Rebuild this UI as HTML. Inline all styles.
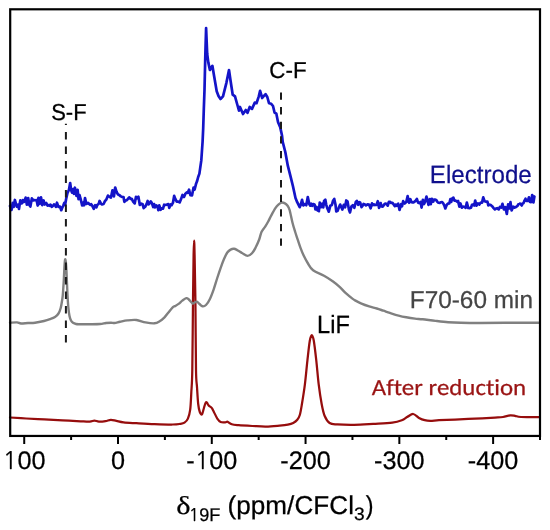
<!DOCTYPE html>
<html><head><meta charset="utf-8"><style>
html,body{margin:0;padding:0;background:#fff;}
svg{display:block;}
svg{text-rendering:geometricPrecision;}
text{font-family:"Liberation Sans",Arial,sans-serif;}
</style></head><body>
<svg width="550" height="530" viewBox="0 0 550 530">
<rect width="550" height="530" fill="#fff"/>
<g fill="none" stroke-linejoin="round" stroke-linecap="round">
<path d="M10.00,417.50 C12.70,417.67 20.47,418.18 26.20,418.50 C31.93,418.82 38.35,419.10 44.40,419.40 C50.45,419.70 56.45,419.98 62.50,420.30 C68.55,420.62 76.15,421.08 80.70,421.30 C85.25,421.52 87.52,421.72 89.80,421.60 C92.08,421.48 92.88,420.60 94.40,420.60 C95.92,420.60 97.05,421.52 98.90,421.60 C100.75,421.68 103.50,421.40 105.50,421.10 C107.50,420.80 109.08,419.83 110.90,419.80 C112.72,419.77 114.28,420.47 116.40,420.90 C118.52,421.33 120.27,422.02 123.60,422.40 C126.93,422.78 131.25,422.92 136.40,423.20 C141.55,423.48 148.45,423.88 154.50,424.10 C160.55,424.32 168.45,424.53 172.70,424.50 C176.95,424.47 178.03,424.22 180.00,423.90 C181.97,423.58 183.18,423.48 184.50,422.60 C185.82,421.72 186.95,420.77 187.90,418.60 C188.85,416.43 189.63,413.93 190.20,409.60 C190.77,405.27 190.95,399.20 191.30,392.60 C191.65,386.00 192.02,385.43 192.30,370.00 C192.58,354.57 192.78,319.17 193.00,300.00 C193.22,280.83 193.42,264.92 193.60,255.00 C193.78,245.08 193.93,240.50 194.10,240.50 C194.27,240.50 194.38,245.08 194.60,255.00 C194.82,264.92 195.17,280.83 195.40,300.00 C195.63,319.17 195.73,355.50 196.00,370.00 C196.27,384.50 196.63,381.33 197.00,387.00 C197.37,392.67 197.73,399.83 198.20,404.00 C198.67,408.17 199.17,410.28 199.80,412.00 C200.43,413.72 201.33,414.88 202.00,414.30 C202.67,413.72 203.13,410.52 203.80,408.50 C204.47,406.48 205.17,402.68 206.00,402.20 C206.83,401.72 207.85,404.65 208.80,405.60 C209.75,406.55 210.85,406.85 211.70,407.90 C212.55,408.95 212.97,410.12 213.90,411.90 C214.83,413.68 216.17,416.92 217.30,418.60 C218.43,420.28 219.38,421.38 220.70,422.00 C222.02,422.62 224.03,422.33 225.20,422.30 C226.37,422.27 226.60,421.47 227.70,421.80 C228.80,422.13 229.98,423.73 231.80,424.30 C233.62,424.87 235.18,424.92 238.60,425.20 C242.02,425.48 247.73,425.77 252.30,426.00 C256.87,426.23 261.45,426.67 266.00,426.60 C270.55,426.53 275.97,425.93 279.60,425.60 C283.23,425.27 285.53,425.03 287.80,424.60 C290.07,424.17 291.62,423.80 293.20,423.00 C294.78,422.20 296.20,421.13 297.30,419.80 C298.40,418.47 299.03,417.60 299.80,415.00 C300.57,412.40 301.05,409.30 301.90,404.20 C302.75,399.10 303.98,391.67 304.90,384.40 C305.82,377.13 306.58,367.87 307.40,360.60 C308.22,353.33 309.07,345.07 309.80,340.80 C310.53,336.53 311.13,335.00 311.80,335.00 C312.47,335.00 313.05,336.53 313.80,340.80 C314.55,345.07 315.48,353.33 316.30,360.60 C317.12,367.87 317.80,377.13 318.70,384.40 C319.60,391.67 320.70,398.93 321.70,404.20 C322.70,409.47 323.38,412.87 324.70,416.00 C326.02,419.13 327.47,421.60 329.60,423.00 C331.73,424.40 333.42,424.10 337.50,424.40 C341.58,424.70 348.15,424.88 354.10,424.80 C360.05,424.72 366.83,424.25 373.20,423.90 C379.57,423.55 387.53,423.30 392.30,422.70 C397.07,422.10 399.27,421.28 401.80,420.30 C404.33,419.32 405.60,417.85 407.50,416.80 C409.40,415.75 411.28,413.82 413.20,414.00 C415.12,414.18 417.08,416.87 419.00,417.90 C420.92,418.93 422.80,419.72 424.70,420.20 C426.60,420.68 428.02,420.80 430.40,420.80 C432.78,420.80 434.90,420.40 439.00,420.20 C443.10,420.00 449.00,419.87 455.00,419.60 C461.00,419.33 468.33,418.93 475.00,418.60 C481.67,418.27 490.33,417.87 495.00,417.60 C499.67,417.33 500.50,417.37 503.00,417.00 C505.50,416.63 508.00,415.60 510.00,415.40 C512.00,415.20 513.17,415.53 515.00,415.80 C516.83,416.07 517.00,416.80 521.00,417.00 C525.00,417.20 536.00,417.00 539.00,417.00" stroke="#960d0d" stroke-width="2.25"/>
<path d="M10.00,322.70 C11.17,322.65 15.17,322.27 17.00,322.40 C18.83,322.53 19.17,323.40 21.00,323.50 C22.83,323.60 25.67,323.13 28.00,323.00 C30.33,322.87 32.33,323.03 35.00,322.70 C37.67,322.37 41.50,321.58 44.00,321.00 C46.50,320.42 48.17,319.87 50.00,319.20 C51.83,318.53 53.58,317.95 55.00,317.00 C56.42,316.05 57.55,315.00 58.50,313.50 C59.45,312.00 60.12,310.08 60.70,308.00 C61.28,305.92 61.65,303.17 62.00,301.00 C62.35,298.83 62.50,298.50 62.80,295.00 C63.10,291.50 63.52,284.83 63.80,280.00 C64.08,275.17 64.28,269.42 64.50,266.00 C64.72,262.58 64.88,260.17 65.10,259.50 C65.32,258.83 65.57,259.92 65.80,262.00 C66.03,264.08 66.23,266.83 66.50,272.00 C66.77,277.17 67.10,287.17 67.40,293.00 C67.70,298.83 67.95,303.17 68.30,307.00 C68.65,310.83 69.05,313.75 69.50,316.00 C69.95,318.25 70.42,319.37 71.00,320.50 C71.58,321.63 72.17,322.22 73.00,322.80 C73.83,323.38 74.83,323.77 76.00,324.00 C77.17,324.23 77.67,324.17 80.00,324.20 C82.33,324.23 86.67,324.23 90.00,324.20 C93.33,324.17 97.33,324.20 100.00,324.00 C102.67,323.80 104.17,323.22 106.00,323.00 C107.83,322.78 109.58,322.70 111.00,322.70 C112.42,322.70 113.00,323.15 114.50,323.00 C116.00,322.85 117.87,322.23 120.00,321.80 C122.13,321.37 124.57,320.70 127.30,320.40 C130.03,320.10 133.37,319.67 136.40,320.00 C139.43,320.33 142.48,321.85 145.50,322.40 C148.52,322.95 152.08,323.53 154.50,323.30 C156.92,323.07 158.33,322.00 160.00,321.00 C161.67,320.00 163.13,318.68 164.50,317.30 C165.87,315.92 166.83,314.37 168.20,312.70 C169.57,311.03 171.57,308.40 172.70,307.30 C173.83,306.20 174.02,306.67 175.00,306.10 C175.98,305.53 177.38,304.82 178.60,303.90 C179.82,302.98 181.02,301.57 182.30,300.60 C183.58,299.63 185.22,298.28 186.30,298.10 C187.38,297.92 187.77,298.60 188.80,299.50 C189.83,300.40 191.58,302.95 192.50,303.50 C193.42,304.05 193.58,303.10 194.30,302.80 C195.02,302.50 195.93,301.50 196.80,301.70 C197.67,301.90 198.55,303.23 199.50,304.00 C200.45,304.77 201.42,306.13 202.50,306.30 C203.58,306.47 204.78,306.18 206.00,305.00 C207.22,303.82 208.52,301.82 209.80,299.20 C211.08,296.58 212.48,292.75 213.70,289.30 C214.92,285.85 215.97,282.00 217.10,278.50 C218.23,275.00 219.37,271.50 220.50,268.30 C221.63,265.10 222.77,261.93 223.90,259.30 C225.03,256.67 226.18,254.12 227.30,252.50 C228.42,250.88 229.48,250.22 230.60,249.60 C231.72,248.98 232.87,248.70 234.00,248.80 C235.13,248.90 236.07,249.50 237.40,250.20 C238.73,250.90 240.30,252.05 242.00,253.00 C243.70,253.95 245.90,255.90 247.60,255.90 C249.30,255.90 250.88,254.35 252.20,253.00 C253.52,251.65 254.35,250.00 255.50,247.80 C256.65,245.60 258.08,242.48 259.10,239.80 C260.12,237.12 260.58,233.90 261.60,231.70 C262.62,229.50 264.10,228.30 265.20,226.60 C266.30,224.90 267.18,223.37 268.20,221.50 C269.22,219.63 270.10,217.62 271.30,215.40 C272.50,213.18 274.22,209.98 275.40,208.20 C276.58,206.42 277.38,205.63 278.40,204.70 C279.42,203.77 280.48,202.87 281.50,202.60 C282.52,202.33 283.48,202.58 284.50,203.10 C285.52,203.62 286.75,204.55 287.60,205.70 C288.45,206.85 288.78,207.17 289.60,210.00 C290.42,212.83 291.57,219.03 292.50,222.70 C293.43,226.37 294.32,229.13 295.20,232.00 C296.08,234.87 296.92,237.27 297.80,239.90 C298.68,242.53 299.50,245.15 300.50,247.80 C301.50,250.45 302.60,253.27 303.80,255.80 C305.00,258.33 306.15,260.58 307.70,263.00 C309.25,265.42 310.38,268.18 313.10,270.30 C315.82,272.42 320.73,273.88 324.00,275.70 C327.27,277.52 330.15,279.38 332.70,281.20 C335.25,283.02 337.12,284.60 339.30,286.60 C341.48,288.60 343.62,291.20 345.80,293.20 C347.98,295.20 350.78,297.37 352.40,298.60 C354.02,299.83 353.98,299.77 355.50,300.60 C357.02,301.43 359.22,302.63 361.50,303.60 C363.78,304.57 366.65,305.58 369.20,306.40 C371.75,307.22 374.43,307.78 376.80,308.50 C379.17,309.22 381.22,309.97 383.40,310.70 C385.58,311.43 387.37,312.08 389.90,312.90 C392.43,313.72 395.87,314.87 398.60,315.60 C401.33,316.33 403.57,316.80 406.30,317.30 C409.03,317.80 412.27,318.27 415.00,318.60 C417.73,318.93 419.28,318.92 422.70,319.30 C426.12,319.68 431.25,320.42 435.50,320.90 C439.75,321.38 443.97,321.88 448.20,322.20 C452.43,322.52 455.60,322.67 460.90,322.80 C466.20,322.93 472.65,323.00 480.00,323.00 C487.35,323.00 495.17,322.85 505.00,322.80 C514.83,322.75 533.33,322.72 539.00,322.70" stroke="#808080" stroke-width="2.4"/>
<path d="M10.00,205.92 L11.54,209.89 L12.71,202.97 L13.66,206.90 L14.87,199.97 L15.74,203.11 L16.79,206.66 L18.14,204.58 L18.98,208.99 L20.30,200.38 L21.59,203.44 L22.81,200.11 L23.66,202.00 L24.49,201.58 L25.66,197.61 L26.87,204.66 L28.18,198.09 L29.35,205.08 L30.37,206.57 L31.84,198.41 L33.21,200.33 L34.24,200.16 L35.10,200.23 L36.58,200.01 L37.68,205.54 L38.49,197.75 L39.45,203.94 L41.04,197.35 L42.16,205.08 L43.58,200.45 L44.59,204.50 L46.17,202.97 L47.57,205.61 L48.45,205.10 L49.30,205.77 L50.55,204.57 L51.71,206.85 L52.61,206.24 L53.93,204.43 L54.90,205.18 L55.91,206.92 L56.95,202.72 L58.46,206.84 L59.95,206.54 L61.26,210.18 L62.23,207.66 L63.24,205.77 L64.27,202.96 L65.13,204.88 L66.13,199.07 L67.41,193.33 L68.98,189.75 L70.16,183.05 L71.11,190.02 L72.03,192.64 L73.03,189.03 L73.98,193.89 L74.94,187.72 L76.50,195.88 L77.64,189.91 L78.52,199.15 L79.51,195.04 L80.88,199.98 L82.15,205.44 L83.19,202.73 L84.04,205.29 L85.03,198.01 L86.32,203.89 L87.34,203.53 L88.15,202.93 L89.17,204.02 L90.11,204.86 L91.21,204.13 L92.30,205.84 L93.81,208.76 L95.16,205.18 L96.43,207.37 L97.24,205.06 L98.77,203.70 L99.59,200.98 L100.90,203.48 L101.95,204.45 L103.55,204.00 L104.94,201.14 L106.46,199.28 L107.90,195.62 L109.43,196.73 L110.95,197.59 L112.45,190.35 L113.94,196.32 L115.19,187.51 L116.46,191.59 L117.75,194.21 L119.34,195.14 L120.85,196.38 L122.23,196.98 L123.50,197.04 L124.37,201.86 L125.77,200.49 L126.95,199.95 L127.94,198.92 L129.23,197.36 L130.76,199.02 L131.80,198.92 L133.15,201.63 L134.67,203.44 L136.00,196.80 L137.06,198.21 L138.39,196.76 L139.84,204.90 L141.37,203.65 L142.64,204.29 L143.69,208.09 L145.16,206.82 L146.64,203.93 L147.66,201.00 L148.59,204.42 L149.57,203.33 L150.70,201.43 L151.75,202.84 L153.22,206.99 L154.08,204.08 L154.91,207.38 L156.27,205.39 L157.53,206.44 L158.34,210.23 L159.25,205.43 L160.72,209.79 L161.71,208.33 L163.01,208.71 L164.17,204.70 L165.61,205.01 L167.18,204.43 L168.36,204.05 L169.30,207.86 L170.67,204.51 L171.62,205.19 L172.98,202.68 L174.19,195.84 L175.31,198.92 L176.74,201.71 L178.29,201.52 L179.66,202.42 L180.96,199.34 L182.49,194.94 L184.00,196.97 L185.43,193.64 L186.75,192.36 L187.72,192.88 L189.03,189.65 L190.41,195.22 L191.99,195.45 L193.57,187.56 L194.63,189.51 L196.16,183.44 L197.02,181.32 L198.18,176.98 L199.40,173.60 L201.30,160.40 L202.60,141.50 L203.20,128.30 L203.80,109.40 L204.50,90.00 L205.20,60.00 L205.60,45.00 L206.10,28.00 L206.60,40.00 L207.20,54.00 L208.30,62.40 L209.90,70.00 L211.00,68.00 L212.40,65.80 L214.10,76.00 L216.70,91.30 L218.50,96.00 L220.50,99.00 L223.00,96.40 L226.40,82.80 L229.00,70.00 L230.60,81.00 L232.70,94.70 L235.00,96.40 L237.40,105.00 L239.00,110.60 L240.00,107.00 L243.00,114.00 L245.80,110.00 L247.50,112.80 L249.70,107.00 L252.00,108.90 L254.80,102.60 L256.50,103.20 L258.80,96.40 L260.10,90.80 L262.20,98.00 L263.90,95.90 L265.60,94.20 L267.30,97.00 L269.00,103.20 L271.20,103.80 L273.00,106.00 L274.60,112.80 L276.30,113.40 L278.00,121.90 L280.30,127.60 L282.00,135.50 L282.70,141.90 L285.30,152.00 L287.80,165.70 L290.40,175.80 L292.90,186.00 L295.50,198.00 L297.20,202.20 L299.70,207.20 L300.73,204.96 L302.05,199.87 L303.33,205.43 L304.82,204.09 L306.27,205.27 L307.79,197.04 L309.33,204.30 L310.30,205.62 L311.21,203.75 L312.20,205.79 L313.08,204.04 L314.55,204.53 L315.45,209.44 L316.57,206.95 L317.53,210.41 L318.87,211.20 L319.77,202.50 L320.97,207.24 L322.32,203.64 L323.27,207.44 L324.10,201.04 L325.34,199.76 L326.26,204.82 L327.21,207.91 L328.80,211.72 L330.34,205.71 L331.90,204.94 L333.07,200.68 L334.25,198.93 L335.46,204.45 L336.27,211.38 L337.63,210.84 L338.79,207.61 L340.18,204.56 L341.12,206.71 L342.33,209.55 L343.77,204.78 L345.13,207.27 L346.26,200.46 L347.53,201.56 L348.98,209.87 L349.99,212.39 L351.41,206.55 L352.86,205.11 L354.36,207.71 L355.72,202.23 L356.84,200.88 L358.22,204.77 L359.40,202.15 L360.21,202.70 L361.50,207.11 L362.49,205.96 L363.56,203.88 L364.89,204.41 L366.00,205.42 L367.60,204.43 L369.01,204.56 L370.59,208.28 L371.98,203.39 L372.99,205.01 L373.95,204.35 L375.05,205.04 L376.57,204.81 L377.81,201.20 L379.07,207.92 L380.66,203.11 L381.52,206.42 L382.80,206.59 L384.34,204.38 L385.27,203.66 L386.47,203.83 L387.76,205.69 L388.89,201.76 L390.12,201.95 L391.14,202.98 L392.47,202.84 L393.84,204.63 L394.88,206.14 L395.71,204.54 L396.64,205.74 L398.16,203.69 L399.55,209.91 L401.11,204.25 L401.97,206.34 L403.15,201.18 L404.73,203.46 L406.28,202.09 L407.66,196.17 L409.11,202.78 L410.39,199.18 L411.56,202.26 L412.52,202.47 L413.42,202.52 L414.58,201.58 L415.59,200.77 L416.85,198.91 L418.08,202.70 L419.67,203.18 L420.66,201.87 L421.56,207.65 L422.86,199.94 L423.94,204.01 L425.19,201.62 L426.47,196.60 L427.42,199.60 L428.42,204.81 L429.92,199.06 L430.75,204.23 L431.89,198.82 L433.19,201.61 L434.05,199.58 L434.92,199.60 L436.22,200.00 L437.32,201.78 L438.40,202.69 L439.79,202.85 L440.69,202.27 L442.14,202.00 L443.11,203.23 L444.25,205.41 L445.34,208.42 L446.67,204.98 L447.90,203.63 L449.30,203.45 L450.40,199.00 L451.27,201.93 L452.14,198.50 L453.39,197.59 L454.43,200.60 L455.85,200.67 L457.18,201.76 L458.05,200.92 L459.40,206.66 L460.43,203.47 L461.81,207.63 L462.90,206.66 L464.16,206.73 L465.69,207.81 L466.84,202.61 L468.28,208.03 L469.40,208.16 L470.95,207.70 L472.04,204.78 L473.13,204.46 L474.24,205.60 L475.20,200.58 L476.43,205.65 L477.90,203.37 L479.31,204.57 L480.81,202.49 L482.03,202.58 L483.26,197.37 L484.58,201.29 L486.03,201.65 L487.46,201.69 L488.32,205.41 L489.84,204.67 L490.71,204.98 L492.11,206.20 L493.43,207.83 L494.84,209.46 L496.06,208.56 L497.13,208.15 L498.70,209.39 L499.93,206.85 L501.31,207.56 L502.44,203.77 L503.90,209.43 L505.34,207.13 L506.81,213.99 L508.12,204.35 L509.34,208.47 L510.48,202.17 L511.61,210.40 L513.21,206.62 L514.31,207.60 L515.45,207.23 L516.48,206.61 L517.53,205.87 L518.42,204.18 L519.36,203.93 L520.21,203.55 L521.74,205.51 L522.57,203.44 L523.54,203.13 L524.53,200.60 L525.51,198.78 L526.46,200.94 L527.86,201.00 L528.91,197.42 L530.10,201.95 L531.11,202.13 L532.18,195.03 L533.42,202.42 L534.39,196.47" stroke="#1414c8" stroke-width="2.7"/>
</g>
<g stroke="#1a1a1a" stroke-width="2" fill="none">
<line x1="65.9" y1="123.8" x2="65.9" y2="343" stroke-dasharray="7.4 7.1" stroke-dashoffset="6.3" />
<line x1="281" y1="92.5" x2="281" y2="246" stroke-dasharray="7.3 7.3" />
</g>
<rect x="10.2" y="9.3" width="529.8" height="426.65" fill="none" stroke="#000" stroke-width="2.2"/>
<g stroke="#000" stroke-width="2"><line x1="24.22" y1="436" x2="24.22" y2="444" /><line x1="71.11" y1="436" x2="71.11" y2="440" /><line x1="118.00" y1="436" x2="118.00" y2="444" /><line x1="164.89" y1="436" x2="164.89" y2="440" /><line x1="211.78" y1="436" x2="211.78" y2="444" /><line x1="258.67" y1="436" x2="258.67" y2="440" /><line x1="305.56" y1="436" x2="305.56" y2="444" /><line x1="352.45" y1="436" x2="352.45" y2="440" /><line x1="399.34" y1="436" x2="399.34" y2="444" /><line x1="446.23" y1="436" x2="446.23" y2="440" /><line x1="493.12" y1="436" x2="493.12" y2="444" /><line x1="540.01" y1="436" x2="540.01" y2="440" /></g>
<text transform="translate(24.22,469.05) scale(0.999,1)" font-size="25.3" text-anchor="middle" fill="#000" stroke="#000" stroke-width="0.25"><tspan style="font-family:NanumGothic,'Liberation Sans',sans-serif" font-size="24.11">1</tspan>00</text>
<text transform="translate(118.00,469.05) scale(0.999,1)" font-size="25.3" text-anchor="middle" fill="#000" stroke="#000" stroke-width="0.25">0</text>
<text transform="translate(211.78,469.05) scale(0.999,1)" font-size="25.3" text-anchor="middle" fill="#000" stroke="#000" stroke-width="0.25">-<tspan style="font-family:NanumGothic,'Liberation Sans',sans-serif" font-size="24.11">1</tspan>00</text>
<text transform="translate(305.56,469.05) scale(0.999,1)" font-size="25.3" text-anchor="middle" fill="#000" stroke="#000" stroke-width="0.25">-200</text>
<text transform="translate(399.34,469.05) scale(0.999,1)" font-size="25.3" text-anchor="middle" fill="#000" stroke="#000" stroke-width="0.25">-300</text>
<text transform="translate(493.12,469.05) scale(0.999,1)" font-size="25.3" text-anchor="middle" fill="#000" stroke="#000" stroke-width="0.25">-400</text>

<text transform="translate(51.20,120.12) scale(0.955,1)" font-size="23.00" fill="#000" stroke="#000" stroke-width="0.25">S-F</text>
<text transform="translate(269.36,77.77) scale(0.971,1)" font-size="23.07" fill="#000" stroke="#000" stroke-width="0.25">C-F</text>
<text transform="translate(317.07,332.92) scale(0.944,1)" font-size="25.00" fill="#000" stroke="#000" stroke-width="0.25">LiF</text>
<text transform="translate(429.82,183.40) scale(0.966,1)" font-size="24.98" fill="#10108c" stroke="#10108c" stroke-width="0.25">Electrode</text>
<text transform="translate(409.80,307.59) scale(0.997,1)" font-size="24.43" fill="#454545" stroke="#454545" stroke-width="0.25">F70-60 min</text>
<text x="371.8" y="395.3" font-size="23" fill="#9a1414" stroke="#9a1414" stroke-width="0.25" textLength="154.4" lengthAdjust="spacingAndGlyphs" style="font-family:Carlito,'Liberation Sans',sans-serif;font-variant-ligatures:none;font-feature-settings:'liga' 0">After reduction</text>
<text transform="translate(176.26,513.54) scale(1.177,1)" font-size="25.78" fill="#000" stroke="#000" stroke-width="0.25" style="font-family:'Liberation Serif',serif">δ</text>
<text transform="translate(227.45,513.70) scale(1.012,1)" font-size="25.80" fill="#000" stroke="#000" stroke-width="0.25">(ppm/<tspan dx="0.28">CFC</tspan><tspan dx="0.20">l</tspan></text>
<text transform="translate(365.83,513.60) scale(0.900,1)" font-size="25.97" fill="#000" stroke="#000" stroke-width="0.25">)</text>

<text transform="translate(188.80,520.55) scale(0.985,1)" font-size="18.37" fill="#000" stroke="#000" stroke-width="0.25"><tspan style="font-family:NanumGothic,'Liberation Sans',sans-serif" font-size="17.51">1</tspan>9F</text>
<text transform="translate(354.06,520.20) scale(1.076,1)" font-size="17.85" fill="#000" stroke="#000" stroke-width="0.25">3</text>

</svg>
</body></html>
